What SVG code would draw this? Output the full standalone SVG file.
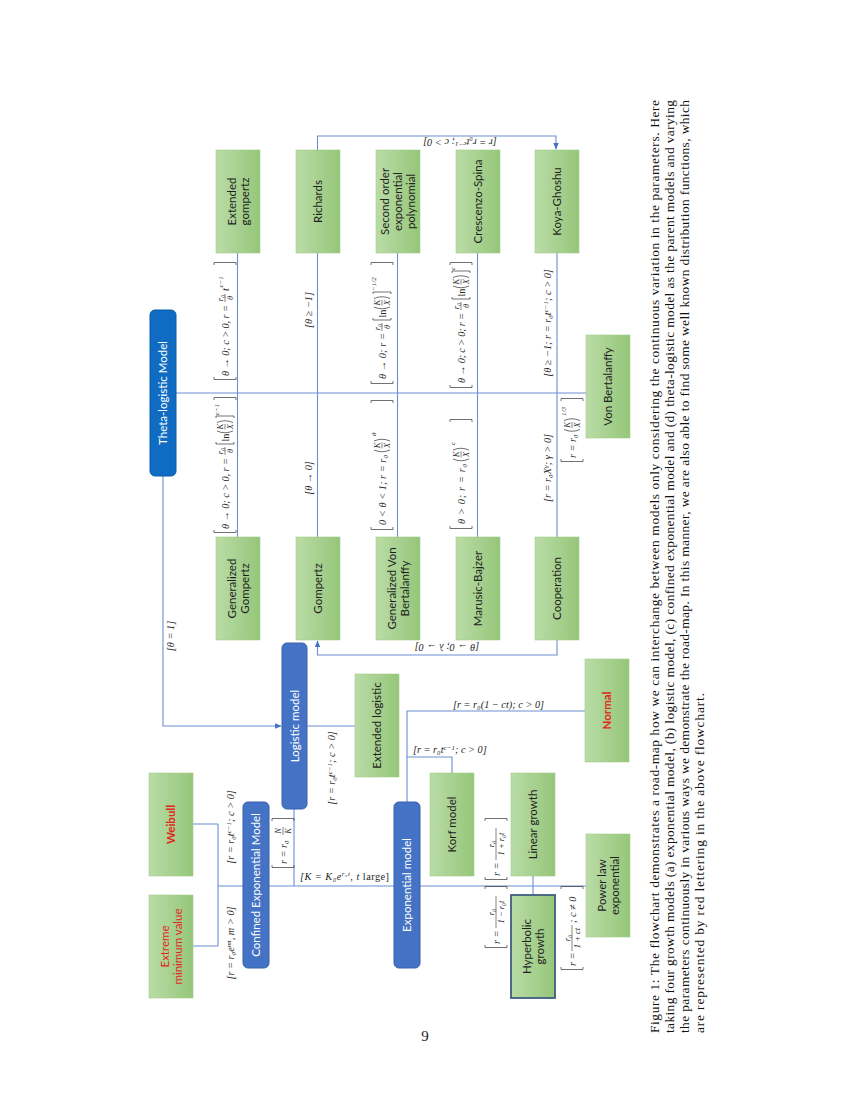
<svg xmlns="http://www.w3.org/2000/svg" width="850" height="1100" viewBox="0 0 850 1100">
<defs>
<linearGradient id="gg" x1="0" y1="0" x2="1" y2="0"><stop offset="0" stop-color="#BADCA7"/><stop offset="1" stop-color="#95C679"/></linearGradient>
<marker id="ah" viewBox="0 0 10 10" refX="9" refY="5" markerWidth="6" markerHeight="6" orient="auto"><path d="M0,1 L10,5 L0,9 z" fill="#4472C4"/></marker>
<style>
.g{fill:url(#gg);stroke:#A3CD8B;stroke-width:0.6}
.b{fill:#4472C4;stroke:#3861AE;stroke-width:1}
.bt{fill:#0F6CC2;stroke:#0B5CA8;stroke-width:1}
.nt{font-family:Lato,"Liberation Sans",sans-serif;font-size:11.5px;fill:#1e1e1e;text-anchor:middle}
.wt{font-family:Lato,"Liberation Sans",sans-serif;font-size:11.5px;fill:#ffffff;text-anchor:middle}
.red{fill:#E3271B}
.bold{font-weight:bold}
.c{fill:none;stroke:#6A8FD3;stroke-width:1.1}
.m{font-family:"Liberation Serif","DejaVu Serif",serif;font-style:italic;font-size:10.3px;fill:#262626}
.mu{font-style:normal}
.f{font-size:8.5px;text-anchor:middle}
.s{font-size:7px}
.mid{text-anchor:middle}
.br{fill:none;stroke:#333;stroke-width:0.7}
.fb{fill:none;stroke:#333;stroke-width:0.6}
.cap{font-family:"Liberation Serif","DejaVu Serif",serif;font-size:13.4px;fill:#111}
</style>
</defs>
<rect width="850" height="1100" fill="#ffffff"/>

<g id="connectors">
<path class="c" d="M163,476 V726 H281" marker-end="url(#ah)"/>
<path class="c" d="M176,393 H586"/>
<path class="c" d="M237.5,253 V537 M317.5,253 V537 M397.5,253 V537 M477.5,253 V537 M557,253 V537"/>
<path class="c" d="M317.5,150 V136 H556 V149" marker-end="url(#ah)"/>
<path class="c" d="M557,640 V655 H317.5 V641" marker-end="url(#ah)"/>
<path class="c" d="M307,726 H355"/>
<path class="c" d="M193,824 H218 M193,946 H218 M218,824 V946 M218,886 H243"/>
<path class="c" d="M269,886 H394 M294,886 V809"/>
<path class="c" d="M407,802 V711 H585 M407,757 H452 V773"/>
<path class="c" d="M420,886 H586 M533,876 V895"/>
</g>

<g id="n-theta"><rect class="bt" x="150" y="310" width="26" height="166" rx="5"/><text class="wt" transform="translate(163,393) rotate(-90)" y="4">Theta-logistic Model</text></g>
<g id="n-logistic"><rect class="b" x="282" y="643" width="25" height="166" rx="5"/><text class="wt" transform="translate(294.5,726) rotate(-90)" y="4">Logistic model</text></g>
<g id="n-confined"><rect class="b" x="243" y="802" width="26" height="166" rx="5"/><text class="wt" transform="translate(256,885) rotate(-90)" y="4">Confined Exponential Model</text></g>
<g id="n-exponential"><rect class="b" x="394" y="802" width="26" height="166" rx="5"/><text class="wt" transform="translate(407,885) rotate(-90)" y="4">Exponential model</text></g>

<g id="n-extgompertz"><rect class="g" x="216" y="150" width="44" height="103"/><text class="nt" transform="translate(238,201.5) rotate(-90)"><tspan x="0" y="-2.5">Extended</tspan><tspan x="0" y="10.5">gompertz</tspan></text></g>
<g id="n-richards"><rect class="g" x="296" y="150" width="44" height="103"/><text class="nt" transform="translate(318,201.5) rotate(-90)" y="4">Richards</text></g>
<g id="n-secondorder"><rect class="g" x="376" y="150" width="44" height="103"/><text class="nt" transform="translate(398,201.5) rotate(-90)"><tspan x="0" y="-9">Second order</tspan><tspan x="0" y="4">exponential</tspan><tspan x="0" y="17">polynomial</tspan></text></g>
<g id="n-crescenzo"><rect class="g" x="456" y="150" width="44" height="103"/><text class="nt" transform="translate(478,201.5) rotate(-90)" y="4">Crescenzo-Spina</text></g>
<g id="n-koya"><rect class="g" x="535" y="150" width="44" height="103"/><text class="nt" transform="translate(557,201.5) rotate(-90)" y="4">Koya-Ghoshu</text></g>
<g id="n-gengompertz"><rect class="g" x="216" y="537" width="44" height="103"/><text class="nt" transform="translate(238,588.5) rotate(-90)"><tspan x="0" y="-2.5">Generalized</tspan><tspan x="0" y="10.5">Gompertz</tspan></text></g>
<g id="n-gompertz"><rect class="g" x="296" y="537" width="44" height="103"/><text class="nt" transform="translate(318,588.5) rotate(-90)" y="4">Gompertz</text></g>
<g id="n-genvonbert"><rect class="g" x="376" y="537" width="44" height="103"/><text class="nt" transform="translate(398,588.5) rotate(-90)"><tspan x="0" y="-2.5">Generalized Von</tspan><tspan x="0" y="10.5">Bertalanffy</tspan></text></g>
<g id="n-marusic"><rect class="g" x="456" y="537" width="44" height="103"/><text class="nt" transform="translate(478,588.5) rotate(-90)" y="4">Marusic-Bajzer</text></g>
<g id="n-cooperation"><rect class="g" x="535" y="537" width="44" height="103"/><text class="nt" transform="translate(557,588.5) rotate(-90)" y="4">Cooperation</text></g>
<g id="n-vonbert"><rect class="g" x="586" y="335" width="44" height="103"/><text class="nt" transform="translate(608,386.5) rotate(-90)" y="4">Von Bertalanffy</text></g>
<g id="n-extlogistic"><rect class="g" x="355" y="674" width="44" height="103"/><text class="nt" transform="translate(377,725.5) rotate(-90)" y="4">Extended logistic</text></g>
<g id="n-normal"><rect class="g" x="585" y="659" width="44" height="103"/><text class="nt red bold" transform="translate(607,710.5) rotate(-90)" y="4">Normal</text></g>
<g id="n-weibull"><rect class="g" x="149" y="773" width="44" height="103"/><text class="nt red bold" transform="translate(171,824.5) rotate(-90)" y="4">Weibull</text></g>
<g id="n-extreme"><rect class="g" x="149" y="895" width="44" height="103"/><text class="nt red" transform="translate(171,946.5) rotate(-90)"><tspan x="0" y="-2.5">Extreme</tspan><tspan x="0" y="10.5">minimum value</tspan></text></g>
<g id="n-korf"><rect class="g" x="430" y="773" width="44" height="103"/><text class="nt" transform="translate(452,824.5) rotate(-90)" y="4">Korf model</text></g>
<g id="n-linear"><rect class="g" x="511" y="773" width="44" height="103"/><text class="nt" transform="translate(533,824.5) rotate(-90)" y="4">Linear growth</text></g>
<g id="n-hyperbolic"><rect class="g" x="511" y="895" width="44" height="103" style="stroke:#3F5C80;stroke-width:1.8"/><text class="nt" transform="translate(533,946.5) rotate(-90)"><tspan x="0" y="-2.5">Hyperbolic</tspan><tspan x="0" y="10.5">growth</tspan></text></g>
<g id="n-powerlaw"><rect class="g" x="586" y="834" width="44" height="103"/><text class="nt" transform="translate(608,885.5) rotate(-90)"><tspan x="0" y="-2.5">Power law</tspan><tspan x="0" y="10.5">exponential</tspan></text></g>

<g id="labels">
<text class="m mid" transform="translate(171,636) rotate(-90)" y="3.3">[θ = 1]</text>
<g transform="translate(225,465) rotate(-90)">
<path class="br" d="M-65,-11 H-67.5 V11 H-65 M65,-11 H67.5 V11 H65"/>
<text class="m" x="-64" y="3.5" textLength="71">θ → 0; c &gt; 0, r =</text>
<text class="m f" x="14" y="-2">r₀</text><path class="fb" d="M10,0 H18"/><text class="m f" x="14" y="8">θ</text>
<path class="br" d="M23,-9 H21 V9 H23"/>
<text class="m mu" x="23.5" y="3.5">ln</text>
<path class="br" d="M34,-8 Q30.5,0 34,8 M42.5,-8 Q46,0 42.5,8"/>
<text class="m f" x="38.3" y="-2">K</text><path class="fb" d="M35.5,0 H41"/><text class="m f" x="38.3" y="8">X</text>
<path class="br" d="M47,-9 H49 V9 H47"/>
<text class="m s" x="50" y="-6">c−1</text>
</g>
<g transform="translate(225,321) rotate(-90)">
<path class="br" d="M-56,-11 H-58.5 V11 H-56 M56,-11 H58.5 V11 H56"/>
<text class="m" x="-55" y="3.5" textLength="71">θ → 0; c &gt; 0, r =</text>
<text class="m f" x="23" y="-2">r₀</text><path class="fb" d="M19,0 H27"/><text class="m f" x="23" y="8">θ</text>
<text class="m" x="30" y="3.5">t</text>
<text class="m s" x="33.5" y="-2">c−1</text>
</g>
<text class="m mid" transform="translate(309,478) rotate(-90)" y="3.3">[θ → 0]</text>
<text class="m mid" transform="translate(309,310) rotate(-90)" y="3.3">[θ ≥ −1]</text>
<g transform="translate(382,465) rotate(-90)">
<path class="br" d="M-62,-11 H-64.5 V11 H-62 M62,-11 H64.5 V11 H62"/>
<text class="m" x="-60" y="3.5" textLength="70">0 &lt; θ &lt; 1; r = r₀</text>
<path class="br" d="M15,-8 Q11.5,0 15,8 M24,-8 Q27.5,0 24,8"/>
<text class="m f" x="19.5" y="-2">K</text><path class="fb" d="M16.5,0 H22.5"/><text class="m f" x="19.5" y="8">X</text>
<text class="m s" x="29" y="-6">θ</text>
</g>
<g transform="translate(382,323) rotate(-90)">
<path class="br" d="M-58,-11 H-60.5 V11 H-58 M58,-11 H60.5 V11 H58"/>
<text class="m" x="-56" y="3.5" textLength="46">θ → 0; r =</text>
<text class="m f" x="-4" y="-2">r₀</text><path class="fb" d="M-8,0 H0"/><text class="m f" x="-4" y="8">θ</text>
<path class="br" d="M5,-9 H3 V9 H5"/>
<text class="m mu" x="5.5" y="3.5">ln</text>
<path class="br" d="M16,-8 Q12.5,0 16,8 M24.5,-8 Q28,0 24.5,8"/>
<text class="m f" x="20.3" y="-2">K</text><path class="fb" d="M17.5,0 H23"/><text class="m f" x="20.3" y="8">X</text>
<path class="br" d="M29,-9 H31 V9 H29"/>
<text class="m s" x="32" y="-6">−1/2</text>
</g>
<g transform="translate(461,474) rotate(-90)">
<path class="br" d="M-52,-11 H-54.5 V11 H-52 M52,-11 H54.5 V11 H52"/>
<text class="m" x="-50" y="3.5" textLength="60">θ &gt; 0; r = r₀</text>
<path class="br" d="M15,-8 Q11.5,0 15,8 M24,-8 Q27.5,0 24,8"/>
<text class="m f" x="19.5" y="-2">K</text><path class="fb" d="M16.5,0 H22.5"/><text class="m f" x="19.5" y="8">X</text>
<text class="m s" x="29" y="-6">c</text>
</g>
<g transform="translate(461,325) rotate(-90)">
<path class="br" d="M-60,-11 H-62.5 V11 H-60 M60,-11 H62.5 V11 H60"/>
<text class="m" x="-58" y="3.5" textLength="70">θ → 0; c &gt; 0; r =</text>
<text class="m f" x="19" y="-2">r₀</text><path class="fb" d="M15,0 H23"/><text class="m f" x="19" y="8">θ</text>
<path class="br" d="M28,-9 H26 V9 H28"/>
<text class="m mu" x="28.5" y="3.5">ln</text>
<path class="br" d="M39,-8 Q35.5,0 39,8 M47.5,-8 Q51,0 47.5,8"/>
<text class="m f" x="43.3" y="-2">K</text><path class="fb" d="M40.5,0 H46"/><text class="m f" x="43.3" y="8">X</text>
<path class="br" d="M52,-9 H54 V9 H52"/>
<text class="m s" x="55" y="-6">c</text>
</g>
<text class="m mid" transform="translate(548,468) rotate(-90)" y="3.3">[r = r₀X<tspan class="s" dy="-3.5">γ</tspan><tspan dy="3.5">; γ &gt; 0]</tspan></text>
<text class="m mid" transform="translate(548,323) rotate(-90)" y="3.3">[θ ≥ −1; r = r₀t<tspan class="s" dy="-3.5">c−1</tspan><tspan dy="3.5">; c &gt; 0]</tspan></text>
<g transform="translate(572,430) rotate(-90)">
<path class="br" d="M-29,-11 H-31.5 V11 H-29 M29,-11 H31.5 V11 H29"/>
<text class="m" x="-28" y="3.5">r = r₀</text>
<path class="br" d="M0.5,-8 Q-3,0 0.5,8 M9.5,-8 Q13,0 9.5,8"/>
<text class="m f" x="5" y="-2">K</text><path class="fb" d="M2,0 H8"/><text class="m f" x="5" y="8">X</text>
<text class="m s" x="14" y="-6">1/3</text>
</g>
<text class="m mid" transform="translate(460,142) rotate(180)" y="3.3">[r = r₀t<tspan class="s" dy="-3.5">c−1</tspan><tspan dy="3.5">; c &gt; 0]</tspan></text>
<text class="m mid" transform="translate(447,647.5) rotate(180)" y="3.3">[θ → 0; λ → 0]</text>
<text class="m mid" transform="translate(332,768) rotate(-90)" y="3.3">[r = r₀t<tspan class="s" dy="-3.5">c−1</tspan><tspan dy="3.5">; c &gt; 0]</tspan></text>
<text class="m mid" transform="translate(231,827) rotate(-90)" y="3.3">[r = r₀t<tspan class="s" dy="-3.5">c−1</tspan><tspan dy="3.5">; c &gt; 0]</tspan></text>
<text class="m mid" transform="translate(231,943) rotate(-90)" y="3.3">[r = r₀e<tspan class="s" dy="-3.5">mt</tspan><tspan dy="3.5">, m &gt; 0]</tspan></text>
<g transform="translate(283,843) rotate(-90)">
<path class="br" d="M-22,-11 H-24.5 V11 H-22 M22,-11 H24.5 V11 H22"/>
<text class="m" x="-21" y="3.5">r = r₀</text>
<text class="m f" x="12" y="-2">N</text><path class="fb" d="M8,0 H16"/><text class="m f" x="12" y="8">K</text>
</g>
<text class="m" x="300" y="880" textLength="89">[K = K₀e<tspan class="s" dy="-4">r₀t</tspan><tspan dy="4">, t </tspan><tspan class="mu">large]</tspan></text>
<text class="m" x="453" y="708">[r = r₀(1 − ct); c &gt; 0]</text>
<text class="m" x="413" y="753">[r = r₀t<tspan class="s" dy="-3.5">c−1</tspan><tspan dy="3.5">; c &gt; 0]</tspan></text>
<g transform="translate(496,849) rotate(-90)">
<path class="br" d="M-28,-11 H-30.5 V11 H-28 M28,-11 H30.5 V11 H28"/>
<text class="m" x="-27" y="3.5">r =</text>
<text class="m f" x="5" y="-2">r₀</text><path class="fb" d="M-11,0 H21"/><text class="m f" x="5" y="8">1 + r₀t</text>
</g>
<g transform="translate(496,917) rotate(-90)">
<path class="br" d="M-28,-11 H-30.5 V11 H-28 M28,-11 H30.5 V11 H28"/>
<text class="m" x="-27" y="3.5">r =</text>
<text class="m f" x="5" y="-2">r₀</text><path class="fb" d="M-11,0 H21"/><text class="m f" x="5" y="8">1 − r₀t</text>
</g>
<g transform="translate(572,928) rotate(-90)">
<path class="br" d="M-39,-11 H-41.5 V11 H-39 M39,-11 H41.5 V11 H39"/>
<text class="m" x="-38" y="3.5">r =</text>
<text class="m f" x="-10" y="-2">r₀</text><path class="fb" d="M-23,0 H3"/><text class="m f" x="-10" y="8">1 + ct</text>
<text class="m" x="5" y="3.5">; c ≠ 0</text>
</g>
</g>

<g id="caption">
<text class="cap" transform="translate(658.5,1033) rotate(-90)" textLength="933">Figure 1: The flowchart demonstrates a road-map how we can interchange between models only considering the continuous variation in the parameters. Here</text>
<text class="cap" transform="translate(673.5,1033) rotate(-90)" textLength="933">taking four growth models (a) exponential model, (b) logistic model, (c) confined exponential model and (d) theta-logistic model as the parent models and varying</text>
<text class="cap" transform="translate(688.5,1033) rotate(-90)" textLength="933">the parameters continuously in various ways we demonstrate the road-map. In this manner, we are also able to find some well known distribution functions, which</text>
<text class="cap" transform="translate(703.5,1033) rotate(-90)" textLength="340">are represented by red lettering in the above flowchart.</text>
</g>
<text x="425" y="1041" font-family="Liberation Serif, serif" font-size="15" fill="#222" text-anchor="middle">9</text>
</svg>
